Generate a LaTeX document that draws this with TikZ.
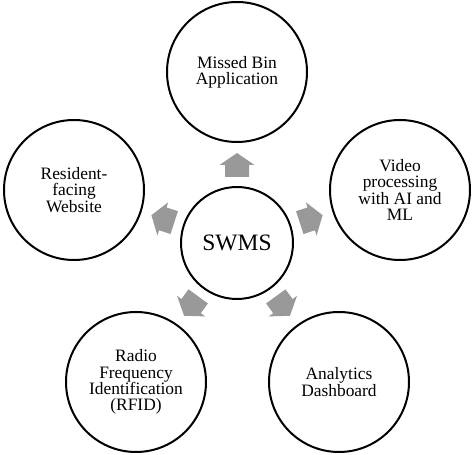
\documentclass[tikz,border=0pt]{standalone}
\usepackage{fontspec}
\setmainfont{Liberation Serif}
\definecolor{arrowgray}{HTML}{999999}
\tikzset{
  bub/.style={circle, draw=black, line width=2pt, minimum size=140pt, inner sep=0pt,
    align=center, font=\fontsize{17.4}{16.3}\selectfont},
  hub/.style={circle, draw=black, line width=2pt, minimum size=112pt, inner sep=0pt,
    font=\fontsize{23.5}{26}\selectfont},
  blk/.style={fill=arrowgray, draw=none}
}
\newcommand{\blockarr}[2]{%
  \begin{scope}[shift={(#1.center)}, rotate=#2]
    \fill[blk] (66,-12) -- (78,-12) -- (78,-17.5) -- (90,0) -- (78,17.5) -- (78,12) -- (66,12) -- cycle;
  \end{scope}}
\begin{document}
\begin{tikzpicture}[x=1pt, y=1pt]
  \useasboundingbox (0,0) rectangle (474,455);
  \node[hub] (c) at (237,212) {SWMS};
  \node[bub] (top) at (237,383) {Missed Bin\\Application};
  \node[bub] (left) at (74,265) {Resident-\\facing\\Website};
  \node[bub] (right) at (400,265) {Video\\processing\\with AI and\\ML};
  \node[bub] (bl) at (136,73) {Radio\\Frequency\\Identification\\(RFID)};
  \node[bub] (br) at (339,73) {Analytics\\Dashboard};
  \blockarr{c}{90}
  \blockarr{c}{162}
  \blockarr{c}{18}
  \blockarr{c}{234}
  \blockarr{c}{306}
\end{tikzpicture}
\end{document}
